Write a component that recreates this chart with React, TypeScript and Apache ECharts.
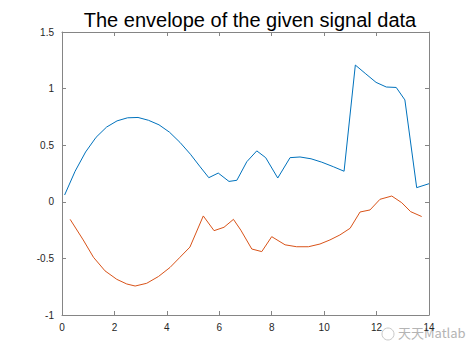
import React, { useEffect, useRef } from "react";
import * as echarts from "echarts";

const titleText = "The envelope of the given signal data";
const xTicks = [0, 2, 4, 6, 8, 10, 12, 14];
const yTicks = [-1, -0.5, 0, 0.5, 1, 1.5];

const upperT = [0.1, 0.5, 0.9, 1.3, 1.7, 2.1, 2.5, 2.9, 3.3, 3.7, 4.1, 4.5, 4.9, 5.25, 5.6, 5.96, 6.37, 6.67, 7.05, 7.43, 7.77, 8.23, 8.7, 9.08, 9.5, 9.91, 10.35, 10.76, 11.19, 11.59, 11.98, 12.37, 12.75, 13.08, 13.53, 14.0];
const upperV = [0.06, 0.27, 0.44, 0.57, 0.66, 0.715, 0.742, 0.745, 0.72, 0.68, 0.615, 0.525, 0.42, 0.315, 0.213, 0.254, 0.18, 0.19, 0.354, 0.45, 0.39, 0.21, 0.39, 0.396, 0.38, 0.35, 0.31, 0.27, 1.208, 1.13, 1.055, 1.014, 1.01, 0.9, 0.125, 0.16];

const lowerT = [0.31, 0.81, 1.2, 1.64, 2.09, 2.47, 2.79, 3.23, 3.68, 4.12, 4.5, 4.88, 5.39, 5.8, 6.18, 6.54, 6.82, 7.24, 7.62, 8.0, 8.51, 8.95, 9.4, 9.84, 10.22, 10.6, 10.99, 11.37, 11.75, 12.13, 12.58, 12.96, 13.3, 13.72];
const lowerV = [-0.155, -0.337, -0.49, -0.61, -0.685, -0.726, -0.744, -0.72, -0.66, -0.58, -0.49, -0.4, -0.125, -0.255, -0.225, -0.155, -0.25, -0.417, -0.44, -0.308, -0.38, -0.397, -0.397, -0.373, -0.337, -0.293, -0.234, -0.09, -0.072, 0.022, 0.051, -0.008, -0.087, -0.13];

const watermark = "天天Matlab";

export default function App() {
  const ref = useRef<HTMLDivElement>(null);
  useEffect(() => {
    if (!ref.current) return;
    const chart = echarts.init(ref.current, null, { renderer: "svg" });
    const axisLine = { show: true, onZero: false, lineStyle: { color: "#858585", width: 1 } };
    const axisTick = { show: true, inside: true, length: 4, lineStyle: { color: "#858585", width: 1 } };
    const label = { color: "#262626", fontSize: 10, fontFamily: "Liberation Sans, Arial, sans-serif" };
    chart.setOption({
      animation: false,
      backgroundColor: "#ffffff",
      title: {
        text: titleText,
        left: 245,
        textAlign: "center",
        top: 5,
        textStyle: { color: "#000000", fontSize: 20, fontWeight: "normal", fontFamily: "Liberation Sans, Arial, sans-serif" },
      },
      grid: { left: 62, right: 45, top: 32, bottom: 40, containLabel: false },
      xAxis: [
        {
          type: "value", min: 0, max: 14, interval: 2, position: "bottom",
          axisLine, axisTick, splitLine: { show: false },
          axisLabel: { ...label, margin: 7 },
        },
        {
          type: "value", min: 0, max: 14, interval: 2, position: "top",
          axisLine, axisTick, splitLine: { show: false }, axisLabel: { show: false },
        },
      ],
      yAxis: [
        {
          type: "value", min: -1, max: 1.5, interval: 0.5, position: "left",
          axisLine, axisTick, splitLine: { show: false },
          axisLabel: { ...label, margin: 8 },
        },
        {
          type: "value", min: -1, max: 1.5, interval: 0.5, position: "right",
          axisLine, axisTick, splitLine: { show: false }, axisLabel: { show: false },
        },
      ],
      series: [
        {
          type: "line", xAxisIndex: 0, yAxisIndex: 0, showSymbol: false, symbol: "none",
          lineStyle: { color: "#0072BD", width: 1 },
          data: upperT.map((t, i) => [t, upperV[i]]),
        },
        {
          type: "line", xAxisIndex: 0, yAxisIndex: 0, showSymbol: false, symbol: "none",
          lineStyle: { color: "#D95319", width: 1 },
          data: lowerT.map((t, i) => [t, lowerV[i]]),
        },
      ],
      graphic: [
        {
          type: "circle", shape: { cx: 388, cy: 334, r: 6 },
          style: { fill: "none", stroke: "#c8c8c8", lineWidth: 1 },
        },
        {
          type: "text", left: 398, top: 326,
          style: { text: watermark, fill: "#b4b4b4", fontSize: 13, fontFamily: "Noto Sans CJK SC, sans-serif" },
        },
      ],
    });
    return () => chart.dispose();
  }, []);
  return <div ref={ref} style={{ position: "fixed", left: 0, top: 0, width: 474, height: 355 }} />;
}
